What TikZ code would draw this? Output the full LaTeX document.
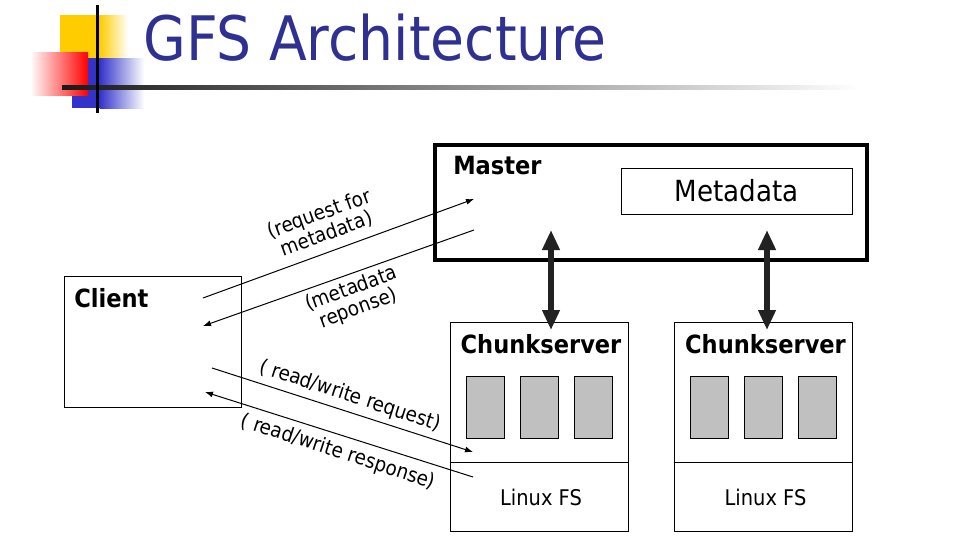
\documentclass[tikz,border=0pt]{standalone}
\usepackage{fontspec}
\setmainfont{DejaVu Sans Condensed}
\usepackage{tikz}
\usetikzlibrary{arrows.meta,positioning,calc}
\definecolor{titleblue}{HTML}{2E3192}
\definecolor{sunyellow}{HTML}{FFCC00}
\definecolor{brightred}{HTML}{FF0000}
\definecolor{deepblue}{HTML}{3333CC}
\definecolor{chunkgray}{HTML}{C0C0C0}
\definecolor{heavy}{HTML}{222222}

\begin{document}
\begin{tikzpicture}[x=0.75pt,y=-0.75pt,
  box/.style={draw,line width=0.75pt,inner sep=0pt},
  chunk/.style={draw,line width=0.6pt,fill=chunkgray,inner sep=0pt,minimum width=28.5pt,minimum height=46.5pt},
  head/.style={font=\bfseries\fontsize{18.8}{20}\selectfont,inner sep=0pt},
  lbl/.style={font=\fontsize{15.3}{15.8}\selectfont,align=center,inner sep=0pt},
  msg/.style={line width=0.75pt,-{Latex[length=6pt,width=4.5pt]}},
  link/.style={line width=4.5pt,heavy,{Triangle[length=15pt,width=12.5pt]}-{Triangle[length=15pt,width=12.5pt]}}]
  \useasboundingbox (0,0) rectangle (967,546);
  % title decoration
  \fill[sunyellow] (60,15) rectangle (100,58);
  \shade[left color=sunyellow,right color=white] (99.5,15) rectangle (128,58);
  \fill[deepblue] (72,58) rectangle (100,108);
  \shade[left color=deepblue,right color=white] (99.5,58) rectangle (144,108);
  \shade[left color=white,right color=brightred] (30,52) rectangle (88,95);
  \shade[left color=black!90,right color=white] (62,85.5) rectangle (860,89);
  \draw[line width=2.25pt] (97,5) -- (97,113);
  \node[anchor=base west,inner sep=0pt,text=titleblue,font=\fontsize{46}{50}\selectfont] (title) at (143,60) {GFS Architecture};

  % master
  \node[box,line width=3pt,minimum width=324pt,minimum height=86.25pt] (m) at (651,202.5) {};
  \node[head,anchor=west] (mt) at (453,166) {Master};
  \node[box,minimum width=173.25pt,minimum height=34.5pt,font=\fontsize{21.8}{24}\selectfont] (md) at (736.5,191) {Metadata};

  % client
  \node[box,minimum width=132.75pt,minimum height=98.25pt] (c) at (152.5,341.5) {};
  \node[head,anchor=west] (ct) at (74,298) {Client};

  % chunkservers
  \foreach \n/\cx in {1/539,2/763.5}{
    \node[box,minimum width=133.5pt,minimum height=156.75pt] (cs\n) at (\cx,426.5) {};
    \draw[line width=0.75pt] (cs\n.west |- 0,462) -- (cs\n.east |- 0,462);
    \node[head] (cst\n) at (\cx+2,344) {Chunkserver};
    \node[font=\fontsize{16.2}{17}\selectfont,inner sep=0pt] (fs\n) at (\cx+2,497) {Linux FS};
    \node[chunk] (k\n a) at (\cx-54,407) {};
    \node[chunk] (k\n b) at (\cx,407) {};
    \node[chunk] (k\n c) at (\cx+54,407) {};
  }

  % master <-> chunkservers
  \coordinate (l1) at (551,230);
  \coordinate (l2) at (767,230);
  \draw[link] (l1) -- (l1 |- 0,330);
  \draw[link] (l2) -- (l2 |- 0,330);

  % client <-> master
  \coordinate (q1) at (203,298);
  \coordinate (q2) at (474,199);
  \coordinate (r1) at (474,230);
  \coordinate (r2) at (203,326);
  \draw[msg] (q1) -- (q2);
  \draw[msg] (r1) -- (r2);
  \node[lbl,rotate=20] (ql) at (323,224) {(request for\\metadata)};
  \node[lbl,rotate=20] (rl) at (355,299) {(metadata\\reponse)};

  % client <-> chunkserver
  \coordinate (w1) at (212,368);
  \coordinate (w2) at (473,452);
  \coordinate (v1) at (473,477);
  \coordinate (v2) at (205,392);
  \draw[msg] (w1) -- (w2);
  \draw[msg] (v1) -- (v2);
  \node[lbl,rotate=-18] (wl) at (350,396) {( read/write request)};
  \node[lbl,rotate=-18] (vl) at (338,452) {( read/write response)};
\end{tikzpicture}
\end{document}
